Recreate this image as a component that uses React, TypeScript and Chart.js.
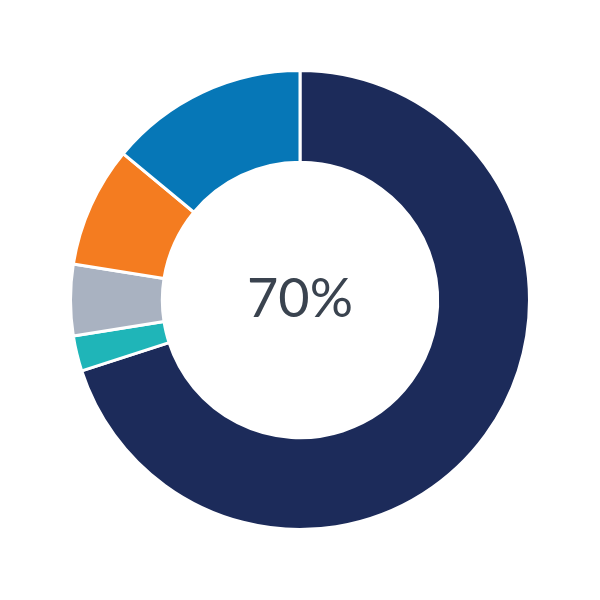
import React, { useEffect, useRef } from "react";
import { Chart, registerables } from "chart.js";

Chart.register(...registerables);

const labels = ["Navy", "Teal", "Gray", "Orange", "Blue"];
const values = [70, 2.5, 5, 8.5, 14];
const colors = ["#1c2b5a", "#1fb5b8", "#a9b2c1", "#f47c20", "#0677b7"];
const centerLabel = "70%";

const centerText = {
  id: "centerText",
  afterDraw(chart: any) {
    const { ctx, chartArea } = chart;
    const cx = (chartArea.left + chartArea.right) / 2;
    const cy = (chartArea.top + chartArea.bottom) / 2;
    ctx.save();
    ctx.font = "400 54px Lato, 'Open Sans', sans-serif";
    ctx.fillStyle = "#3a434f";
    ctx.textAlign = "center";
    ctx.textBaseline = "middle";
    ctx.fillText(centerLabel, cx, cy);
    ctx.restore();
  },
};

export default function App() {
  const ref = useRef<HTMLCanvasElement | null>(null);
  useEffect(() => {
    if (!ref.current) return;
    const chart = new Chart(ref.current, {
      type: "doughnut",
      data: {
        labels,
        datasets: [
          {
            data: values,
            backgroundColor: colors,
            borderColor: "#ffffff",
            borderWidth: 3,
          },
        ],
      },
      options: {
        animation: false,
        responsive: false,
        cutout: "60%",
        layout: { padding: 69 },
        plugins: {
          legend: { display: false },
          tooltip: { enabled: false },
        },
      },
      plugins: [centerText],
    });
    return () => chart.destroy();
  }, []);
  return (
    <div style={{ position: "absolute", left: 0, top: 0, width: 600, height: 600, background: "#fff" }}>
      <canvas ref={ref} width={600} height={600} style={{ width: 600, height: 600 }} />
    </div>
  );
}
